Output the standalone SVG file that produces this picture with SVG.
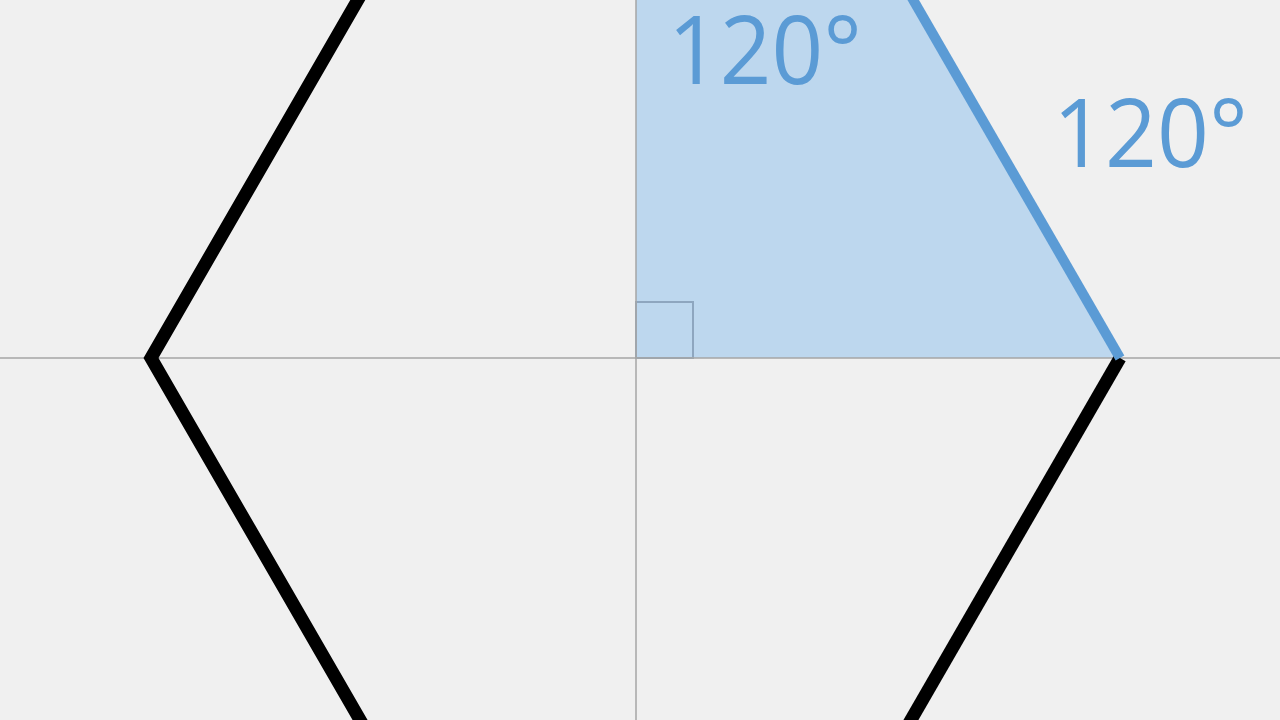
<svg xmlns="http://www.w3.org/2000/svg" width="1280" height="720" viewBox="0 0 1280 720">
<style>
.axis{stroke:#a6a6a6;stroke-width:1.5;fill:none}
.hex{stroke:#000;stroke-width:13;fill:none;stroke-linejoin:miter}
.blue{stroke:#5b9bd5;stroke-width:10;fill:none}
.lbl{font-family:"Open Sans","Liberation Sans",sans-serif;font-size:96px;fill:#5b9bd5}
</style>
<rect width="1280" height="720" fill="#f0f0f0"/>
<g id="sector">
<polygon points="636,-61 878,-61 1120,358 636,358" fill="#bdd7ee"/>
<rect x="636" y="302" width="57" height="56" fill="none" stroke="#8ea6bf" stroke-width="2"/>
</g>
<g id="axes">
<line class="axis" x1="0" y1="358" x2="1280" y2="358"/>
<line class="axis" x1="636" y1="0" x2="636" y2="720"/>
</g>
<g id="hexagon">
<polyline class="hex" points="393,-61 151,358 393,777"/>
<polyline class="hex" points="878,777 1120,358"/>
<line class="blue" x1="878" y1="-61" x2="1120" y2="358"/>
</g>
<g id="labels">
<text class="lbl" x="668" y="84" textLength="194" lengthAdjust="spacingAndGlyphs">120°</text>
<text class="lbl" x="1053" y="167" textLength="195" lengthAdjust="spacingAndGlyphs">120°</text>
</g>
</svg>
